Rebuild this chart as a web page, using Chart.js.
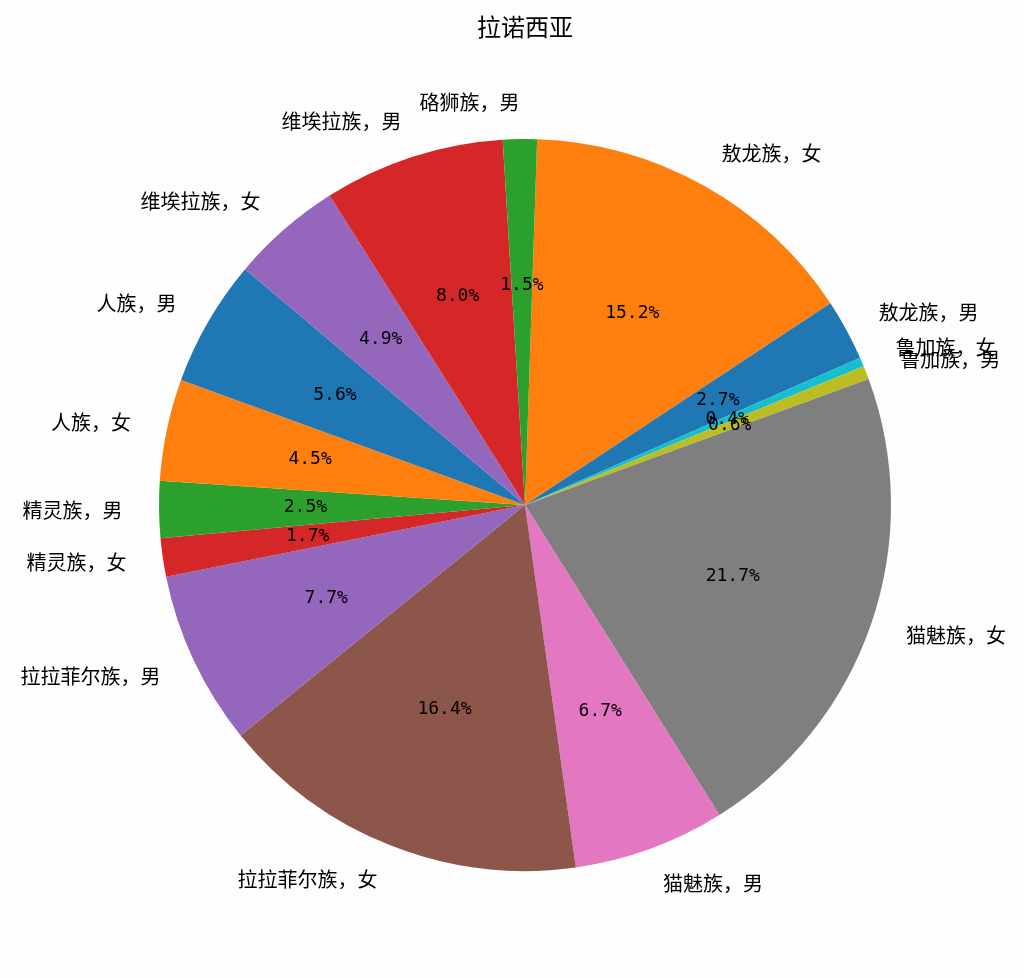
<!DOCTYPE html>
<html>
<head>
<meta charset="utf-8">
<script src="https://cdn.jsdelivr.net/npm/chart.js@4/dist/chart.umd.min.js"></script>
<style>
  html, body { margin: 0; padding: 0; background: #fefefe; }
  #wrap { width: 1024px; height: 978px; }
</style>
</head>
<body>
<div id="wrap"><canvas id="pie" width="1024" height="978"></canvas></div>
<script>
// Data, clockwise from the top
const title = '拉诺西亚';
const labels = ['敖龙族，女', '敖龙族，男', '鲁加族，女', '鲁加族，男', '猫魅族，女', '猫魅族，男',
  '拉拉菲尔族，女', '拉拉菲尔族，男', '精灵族，女', '精灵族，男', '人族，女', '人族，男',
  '维埃拉族，女', '维埃拉族，男', '硌狮族，男'];
const shares = [15.2, 2.7, 0.4, 0.6, 21.7, 6.7, 16.4, 7.7, 1.7, 2.5, 4.5, 5.6, 4.9, 8.0, 1.5];
const colors = ['#ff7f0e', '#1f77b4', '#17becf', '#bcbd22', '#7f7f7f', '#e377c2', '#8c564b',
  '#9467bd', '#d62728', '#2ca02c', '#ff7f0e', '#1f77b4', '#9467bd', '#d62728', '#2ca02c'];

const cjk = '"Noto Sans CJK SC", "Noto Sans", sans-serif';

// draws title, outer labels and percent labels (like matplotlib autopct)
const pieText = {
  id: 'pieText',
  afterDatasetsDraw(chart) {
    const ctx = chart.ctx;
    const arcs = chart.getDatasetMeta(0).data;
    const total = shares.reduce((a, b) => a + b, 0);
    ctx.save();
    ctx.fillStyle = '#000';
    ctx.textBaseline = 'middle';
    ctx.font = '24px ' + cjk;
    ctx.textAlign = 'center';
    ctx.fillText(title, 525, 27);

    arcs.forEach((arc, i) => {
      const p = arc.getProps(['x', 'y', 'startAngle', 'endAngle', 'outerRadius'], true);
      const mid = (p.startAngle + p.endAngle) / 2;
      const cx = Math.cos(mid), cy = Math.sin(mid);
      // outer label
      ctx.font = '20px ' + cjk;
      ctx.textAlign = cx >= 0 ? 'left' : 'right';
      ctx.fillText(labels[i], p.x + cx * p.outerRadius * 1.1, p.y + cy * p.outerRadius * 1.1);
      // percent
      ctx.font = '18px "DejaVu Sans Mono", monospace';
      ctx.textAlign = 'center';
      const pct = (shares[i] / total * 100).toFixed(1) + '%';
      ctx.fillText(pct, p.x + cx * p.outerRadius * 0.6, p.y + cy * p.outerRadius * 0.6);
    });
    ctx.restore();
  }
};

new Chart(document.getElementById('pie'), {
  type: 'pie',
  data: {
    labels: labels,
    datasets: [{
      data: shares,
      backgroundColor: colors,
      borderWidth: 0
    }]
  },
  options: {
    responsive: false,
    animation: false,
    rotation: 1.9,
    layout: { padding: { top: 139, bottom: 107, left: 159, right: 133 } },
    plugins: {
      legend: { display: false },
      tooltip: { enabled: false },
      title: { display: false }
    }
  },
  plugins: [pieText]
});
</script>
</body>
</html>
